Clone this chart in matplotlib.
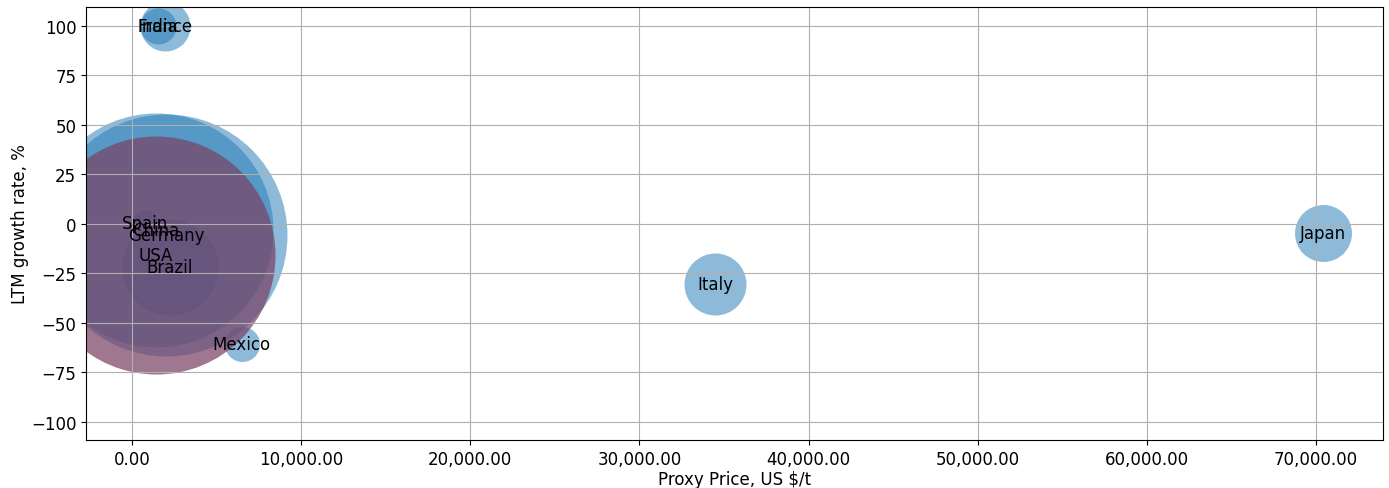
import matplotlib.pyplot as plt
from matplotlib.ticker import FuncFormatter

plt.rcParams["font.size"] = 12

# drawing order matters: USA sits on top of the big blue bubbles
countries = ["Spain", "India", "France", "Mexico", "Italy", "Japan",
             "Germany", "China", "Brazil", "USA"]
price = [770, 1540, 1950, 6500, 34470, 70430, 2010, 1420, 2250, 1420]
growth = [0.5, 100, 100, -60.6, -30.3, -4.8, -5.6, -3.0, -22.0, -15.7]
volume = [350, 672, 1296, 635, 1993, 1684, 30350, 28390, 4778, 29370]
highlight = ["USA"]

fig = plt.figure(figsize=(13.89, 4.89), dpi=100)
ax = fig.add_axes([0.0619, 0.0982, 0.9338, 0.8854])

for name, x, y, s in zip(countries, price, growth, volume):
    if name in highlight:
        ax.scatter(x, y, s=s, color="#7a4266", alpha=0.72, linewidths=0)
    else:
        ax.scatter(x, y, s=s, color="C0", alpha=0.5, linewidths=0)
    ax.text(x, y, name, ha="center", va="center", fontsize=12)

ax.set_xlim(-2720, 73960)
ax.set_ylim(-109.3, 109.6)
ax.set_yticks(range(-100, 101, 25))
ax.xaxis.set_major_formatter(FuncFormatter(lambda v, p: f"{v:,.2f}"))
ax.grid(True)
ax.set_xlabel("Proxy Price, US $/t", labelpad=1.5)
ax.set_ylabel("LTM growth rate, %", labelpad=1)

fig.savefig("out.png")
